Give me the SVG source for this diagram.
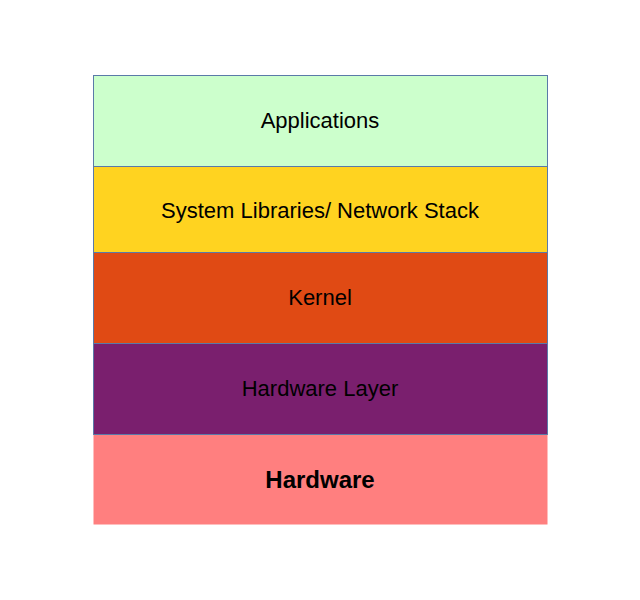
<svg xmlns="http://www.w3.org/2000/svg" width="640" height="600" viewBox="0 0 640 600">
<style>
rect{stroke:#5a7aa8;stroke-width:1}
text{font-family:"Liberation Sans",Arial,sans-serif;font-size:22px;text-anchor:middle;fill:#000}
</style>
<rect x="0" y="0" width="640" height="600" fill="#fff" style="stroke:none"/>
<g id="applications"><rect x="93.5" y="75.5" width="454" height="91" fill="#ccffcc"/><text x="320" y="128">Applications</text></g>
<g id="syslib"><rect x="93.5" y="166.5" width="454" height="86" fill="#ffd320"/><text x="320" y="218">System Libraries/ Network Stack</text></g>
<g id="kernel"><rect x="93.5" y="252.5" width="454" height="91" fill="#e04a14"/><text x="320" y="305">Kernel</text></g>
<g id="hwlayer"><rect x="93.5" y="343.5" width="454" height="91" fill="#7a1f6e"/><text x="320" y="396">Hardware Layer</text></g>
<g id="hardware"><rect x="93.5" y="434.5" width="454" height="90" fill="#ff7f7f" style="stroke:none"/><line x1="93.5" y1="434.5" x2="547.5" y2="434.5" stroke="#5a7aa8"/><text x="320" y="488" font-weight="bold" style="font-size:24px">Hardware</text></g>
<g id="connectors"/>
</svg>
